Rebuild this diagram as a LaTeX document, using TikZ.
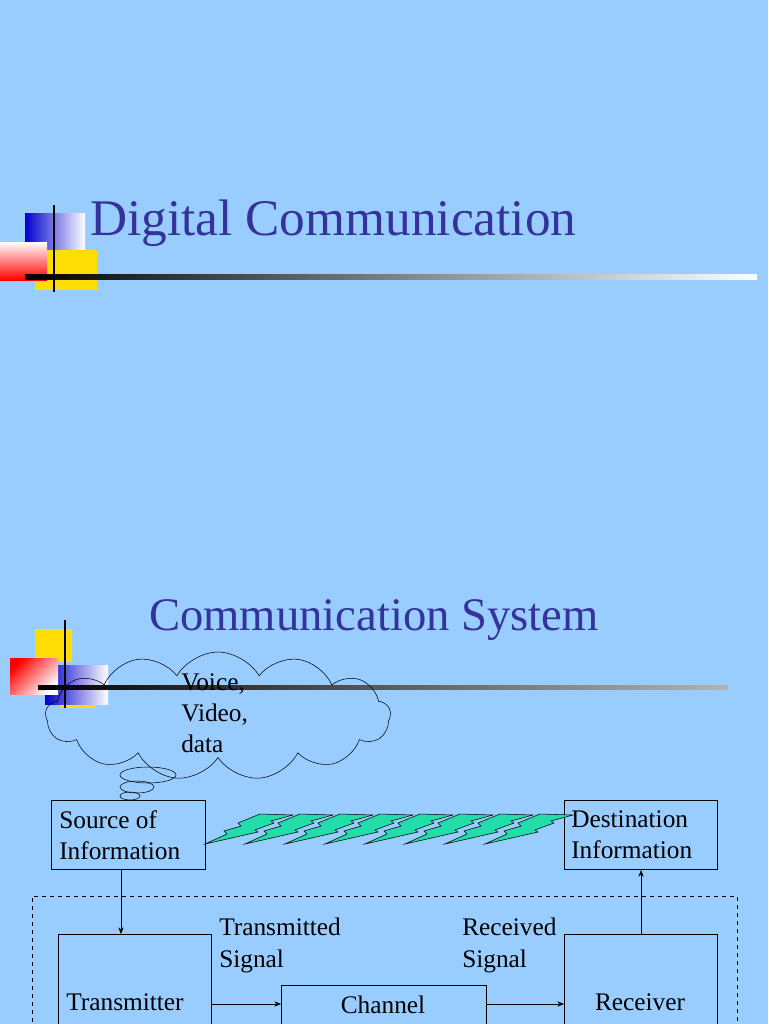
\documentclass[tikz,border=0pt]{standalone}
\usepackage{fontspec}
\setmainfont{Liberation Serif}
\usetikzlibrary{shapes.symbols,arrows.meta}
\definecolor{bg}{HTML}{99CCFF}
\definecolor{ttl}{HTML}{333399}
\definecolor{bolt}{HTML}{22DDAA}
\begin{document}
\begin{tikzpicture}[x=0.75pt,y=-0.75pt,
  lbl/.style={font=\fontsize{19}{23.5}\selectfont,align=left,anchor=north west,inner sep=0pt},
  ttlf/.style={text=ttl,font=\fontsize{38.5}{40}\selectfont,inner sep=0pt},
  bx/.style={draw,thick,anchor=north west,inner sep=0pt},
  arr/.style={-{Stealth[length=5pt,width=4pt]}}]
\useasboundingbox (0,0) rectangle (768,1024);
\clip (0,0) rectangle (768,1024);
\fill[bg] (0,0) rectangle (768,1024);
% logo 1
\shade[left color=blue!80!black,right color=white] (25,213) rectangle (85,263);
\fill[yellow!80!orange] (35,250) rectangle (97,290);
\shade[left color=white,right color=red,shading angle=0] (0,242) rectangle (47,280);
\shade[left color=black,right color=white] (25,274) rectangle (757,279);
\draw[line width=2pt] (54,205) -- (54,292);
\node[ttlf,anchor=base west] (t1) at (90,235) {Digital Communication};
% logo 2
\node[ttlf,anchor=base,font=\fontsize{35}{38}\selectfont] (t2) at (374,630) {Communication System};
\fill[yellow!80!orange] (35,629) rectangle (72,662);
\fill[yellow!80!orange] (60,690) rectangle (95,708);
\shade[left color=blue!80!black,right color=white] (45,665) rectangle (108,704);
\shade[left color=red,right color=white,shading angle=45] (10,658) rectangle (58,694);
\shade[left color=black,right color=gray!60] (38,685) rectangle (728,689);
\draw[line width=2pt] (65,620) -- (65,708);
% cloud
\node[cloud,draw,cloud puffs=13,cloud puff arc=120,aspect=2.7,minimum width=345*0.75pt,minimum height=128*0.75pt] (cl) at (218,716) {};
\draw (148,775) ellipse (28 and 8);
\draw (137,787) ellipse (17 and 6);
\draw (130,796) ellipse (10 and 4);
\node[lbl] (vt) at (181,673) {Voice,\\Video,\\data};
% boxes
\node[bx,minimum width=154*0.75pt,minimum height=69*0.75pt] (src) at (51,800) {};
\node[lbl] at (59,810) {Source of\\Information};
\node[bx,minimum width=153*0.75pt,minimum height=69*0.75pt] (dst) at (564,800) {};
\node[lbl] at (571,810) {Destination\\Information};
\draw[dashed] (32,1030) |- (737,896) -- (737,1030);
\node[bx,minimum width=153*0.75pt,minimum height=100*0.75pt] (tx) at (58,934) {};
\node[lbl,anchor=base] at (125,1010) {Transmitter};
\node[bx,minimum width=153*0.75pt,minimum height=100*0.75pt] (rx) at (564,934) {};
\node[lbl,anchor=base] at (640,1010) {Receiver};
\node[bx,minimum width=205*0.75pt,minimum height=40*0.75pt] (ch) at (281,985) {};
\node[lbl,anchor=base] at (383,1013) {Channel};
\node[lbl] at (219,918) {Transmitted\\Signal};
\node[lbl] at (462,918) {Received\\Signal};
\draw[arr] (src.south -| 121,0) -- (tx.north -| 121,0);
\draw[arr] (rx.north) -- (dst.south);
\draw[arr] (tx.east |- 0,1004) -- (ch.west |- 0,1004);
\draw[arr] (ch.east |- 0,1004) -- (rx.west |- 0,1004);
% bolts
\foreach \i in {0,...,7}{
  \begin{scope}[shift={(205+40*\i,0)}]
  \draw[fill=bolt] (0,844) -- (22,834) -- (19,831) -- (36,826) -- (33,823) -- (55,814) -- (88,815)
   -- (66,821) -- (69,823) -- (50,830) -- (53,832) -- cycle;
  \end{scope}}
\end{tikzpicture}
\end{document}
